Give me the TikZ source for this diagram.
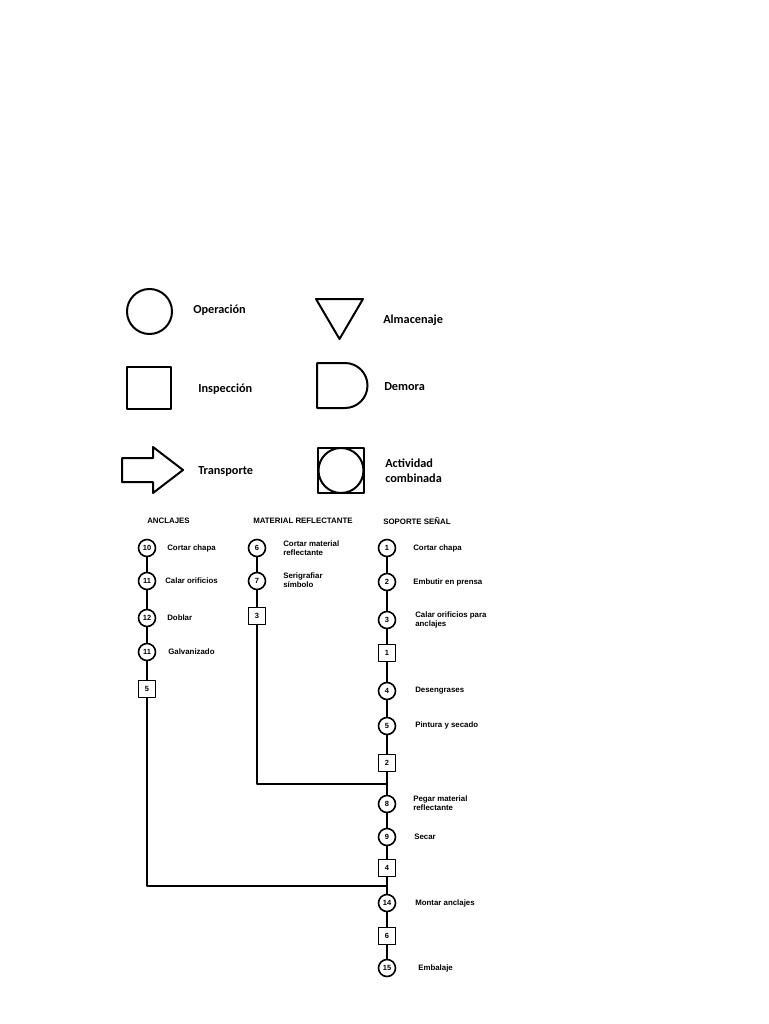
\documentclass[tikz,border=0pt]{standalone}
\usepackage{fontspec}
\setmainfont{Liberation Sans}
\newfontfamily\legendfont{Carlito}
\usetikzlibrary{positioning}

\begin{document}
\begin{tikzpicture}[x=0.75pt, y=-0.75pt, line cap=round, line join=round,
		op/.style={circle, draw, line width=1.2pt, minimum size=12.75pt, inner sep=0pt, font=\bfseries\fontsize{5.6}{6}\selectfont},
		insp/.style={rectangle, draw, line width=1.1pt, minimum size=12.75pt, inner sep=0pt, font=\bfseries\fontsize{5.6}{6}\selectfont},
		lbl/.style={anchor=west, align=left, inner sep=0pt, font=\bfseries\fontsize{5.9}{6.6}\selectfont},
		head/.style={anchor=west, inner sep=0pt, font=\bfseries\fontsize{5.9}{7}\selectfont},
		legtxt/.style={anchor=west, align=left, inner sep=0pt, font=\legendfont\bfseries\fontsize{9.2}{11.5}\selectfont},
		flow/.style={line width=1.1pt}]
		
		\useasboundingbox (0,0) rectangle (768,1024);
		
		% Legend symbols
		\draw[line width=1.5pt] (149.5,311.5) circle (22.5);
		\draw[line width=1.5pt] (316,299) -- (363,299) -- (339.5,339) -- cycle;
		\draw[line width=1.5pt] (127,367) rectangle (171,409);
		\draw[line width=1.5pt] (317,363) -- (345,363) arc (-90:90:22.5) -- (317,408) -- cycle;
		\draw[line width=1.5pt] (122,458) -- (153,458) -- (153,447) -- (183,470)
		-- (153,493) -- (153,482) -- (122,482) -- cycle;
		\draw[line width=1.5pt] (318,448) rectangle (364,493);
		\draw[line width=1.5pt] (341,470.5) circle (22.5);
		
		% Legend texts
		\node[legtxt] (tOp) at (193,310) {Operación};
		\node[legtxt] (tAlm) at (383,320) {Almacenaje};
		\node[legtxt] (tIns) at (198,389) {Inspección};
		\node[legtxt] (tDem) at (384,387) {Demora};
		\node[legtxt] (tTra) at (198,471) {Transporte};
		\node[legtxt] (tAct) at (385,471) {Actividad\\combinada};
		
		% Column headings
		\node[head] (hAnc) at (147,521) {ANCLAJES};
		\node[head] (hMat) at (253,521) {MATERIAL REFLECTANTE};
		\node[head] (hSop) at (383,521) {SOPORTE SEÑAL};
		
		% Anclajes
		\node[op] (a10) at (147,548) {10};
		\node[op] (a11) at (147,581) {11};
		\node[op] (a12) at (147,618) {12};
		\node[op] (a11b) at (147,652) {11};
		\node[insp] (a5) at (147,689) {5};
		\node[lbl] (la10) at (167,548) {Cortar chapa};
		\node[lbl] (la11) at (165,581) {Calar orificios};
		\node[lbl] (la12) at (167,618) {Doblar};
		\node[lbl] (la11b) at (168,652) {Galvanizado};
		
		% Material reflectante
		\node[op] (m6) at (257,548) {6};
		\node[op] (m7) at (257,581) {7};
		\node[insp] (m3) at (257,616) {3};
		\node[lbl] (lm6) at (283,548) {Cortar material\\reflectante};
		\node[lbl] (lm7) at (283,580) {Serigrafiar\\símbolo};
		
		% Soporte senal
		\node[op] (s1) at (387,548) {1};
		\node[op] (s2) at (387,582) {2};
		\node[op] (s3) at (387,620) {3};
		\node[insp] (si1) at (387,653) {1};
		\node[op] (s4) at (387,691) {4};
		\node[op] (s5) at (387,726) {5};
		\node[insp] (si2) at (387,763) {2};
		\coordinate (j1) at (387,784);
		\node[op] (s8) at (387,804) {8};
		\node[op] (s9) at (387,837) {9};
		\node[insp] (si4) at (387,868) {4};
		\coordinate (j2) at (387,886);
		\node[op] (s14) at (387,903) {14};
		\node[insp] (si6) at (387,936) {6};
		\node[op] (s15) at (387,968) {15};
		\node[lbl] (ls1) at (413,548) {Cortar chapa};
		\node[lbl] (ls2) at (413,582) {Embutir en prensa};
		\node[lbl] (ls3) at (415,620) {Calar orificios para\\anclajes};
		\node[lbl] (ls4) at (415,691) {Desengrases};
		\node[lbl] (ls5) at (415,725) {Pintura y secado};
		\node[lbl] (ls8) at (413,803) {Pegar material\\reflectante};
		\node[lbl] (ls9) at (414,837) {Secar};
		\node[lbl] (ls14) at (415,903) {Montar anclajes};
		\node[lbl] (ls15) at (418,968) {Embalaje};
		
		% Flow lines
		\draw[flow] (a10) -- (a11) -- (a12) -- (a11b) -- (a5);
		\draw[flow] (m6) -- (m7) -- (m3);
		\draw[flow] (s1) -- (s2) -- (s3) -- (si1) -- (s4) -- (s5) -- (si2) -- (s8)
		-- (s9) -- (si4) -- (s14) -- (si6) -- (s15);
		\draw[flow] (m3) |- (j1);
		\draw[flow] (a5) |- (j2);
		
	\end{tikzpicture}
\end{document}
